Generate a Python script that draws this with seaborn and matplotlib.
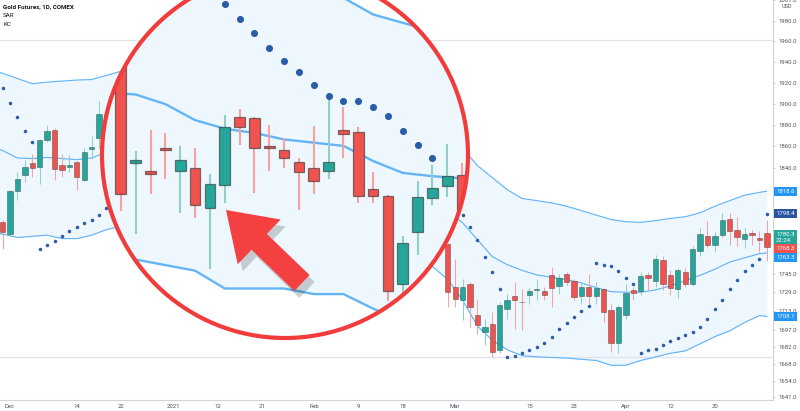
import numpy as np
import pandas as pd
import matplotlib
matplotlib.use("Agg")
import matplotlib.pyplot as plt
import seaborn as sns
from matplotlib.patches import Circle, FancyArrow
from matplotlib.transforms import Affine2D
from matplotlib.ticker import FixedLocator, NullLocator, FixedFormatter

# trading days (COMEX holidays removed)
holidays = ['2020-12-25', '2021-01-01', '2021-01-18', '2021-02-15', '2021-04-02']
dates = pd.bdate_range('2020-11-30', '2021-04-29').drop(pd.to_datetime(holidays))

opens = [1790.9, 1780.4, 1818.4, 1833.3, 1844.5, 1841, 1866, 1875, 1842.5, 1840.5,
         1845, 1829, 1857.5, 1868, 1889,
         1887, 1878, 1868, 1873, 1885, 1880, 1882, 1893, 1900, 1946, 1955, 1917,
         1913, 1848, 1844.3, 1855, 1844.5, 1846, 1827.5, 1838, 1869.3, 1868.8,
         1855.8, 1854.3, 1848.5, 1845.8, 1844.5, 1863.5, 1862.6, 1836, 1833, 1793.2,
         1816.3, 1832, 1837.6, 1842.5,
         1827, 1823, 1799, 1773, 1775, 1779, 1808, 1806, 1797,
         1771.4, 1733.4, 1722.5, 1736.4, 1709.1, 1694.9, 1702, 1679.4, 1714.8, 1725.4,
         1721, 1726.2, 1731.2, 1729.7, 1743.6, 1734, 1745.1, 1738.6, 1725.4, 1733.4,
         1725.4, 1732, 1713.5, 1685.6, 1709.1, 1730.8, 1730, 1744, 1738.6, 1756.9,
         1744.2, 1732, 1746.5, 1736.4, 1764.9, 1778.2, 1770.6, 1779.1, 1793.7, 1783.7,
         1775.8, 1781, 1776.6, 1781]
highs = [1792.7, 1819.5, 1836, 1847, 1852.3, 1866.5, 1879.7, 1876.5, 1853, 1851.7,
         1846, 1858, 1869, 1902, 1895,
         1906, 1880, 1880, 1887, 1893, 1887, 1896, 1902, 1947, 1957, 1962, 1924,
         1916, 1853.7, 1863.3, 1862.2, 1856.1, 1855, 1843.2, 1870.3, 1873, 1869.3,
         1865.7, 1859.6, 1850.3, 1865.2, 1880.6, 1874, 1864.8, 1843.8, 1833.5, 1814.5,
         1840, 1847, 1857, 1848,
         1829, 1825, 1801, 1786, 1790, 1815, 1816, 1807, 1801,
         1772, 1758.2, 1740.7, 1738, 1722.1, 1706.2, 1711.9, 1720.5, 1727.7, 1737.8,
         1732, 1733, 1740.7, 1733.4, 1750.8, 1745.1, 1746.5, 1740.7, 1737.8, 1745.1,
         1737.8, 1733, 1719.1, 1718, 1736.4, 1733.4, 1746.5, 1746.5, 1761.4, 1760.5,
         1748.3, 1749.8, 1750.3, 1769.8, 1785, 1791.7, 1782, 1798.7, 1799.3, 1795,
         1785, 1783.6, 1782.5, 1792.5]
lows = [1767, 1779, 1810.5, 1827, 1831.6, 1825, 1864, 1828.7, 1831.6, 1836,
        1819.5, 1828, 1848, 1858, 1877,
        1855, 1859, 1862, 1871, 1870, 1872, 1878, 1885, 1896, 1932, 1900, 1907,
        1826, 1815.7, 1834, 1840.5, 1825, 1822.7, 1799.7, 1829.6, 1856.4, 1834.4,
        1844.3, 1845.7, 1826.5, 1834, 1840.5, 1850.3, 1829.6, 1829.6, 1785.4, 1788,
        1806, 1829, 1832.4, 1820,
        1808, 1789, 1769, 1762, 1770, 1776, 1793, 1783, 1768,
        1716.2, 1716.2, 1704.8, 1699.1, 1693.5, 1683.6, 1673.8, 1677, 1706.2, 1697.7,
        1696.3, 1719, 1722, 1722.1, 1716.2, 1727.7, 1735, 1722.1, 1719, 1719,
        1719, 1703.3, 1678, 1677.2, 1706.2, 1722.1, 1727, 1730.8, 1733.4, 1731,
        1726.4, 1723.6, 1733.4, 1734, 1760.5, 1768, 1764, 1777, 1770.2, 1769,
        1767.9, 1770, 1764, 1756]
closes = [1781.6, 1818.4, 1830, 1841, 1840, 1865.7, 1874.5, 1838.5, 1838, 1843,
          1831.6, 1855, 1858.8, 1890.5, 1886,
          1878, 1870, 1874, 1883, 1880, 1882, 1893, 1895, 1946, 1954, 1918, 1913,
          1834, 1849.4, 1843, 1854, 1849.4, 1829, 1838.5, 1864.8, 1864.8, 1854.8,
          1855, 1850.2, 1843.8, 1840, 1848.7, 1861.5, 1832.8, 1833, 1790, 1811.6,
          1832.3, 1836.7, 1842.2, 1823,
          1823, 1799, 1773, 1775, 1777, 1808, 1806, 1797, 1775,
          1729.1, 1723.4, 1733.4, 1716.2, 1700.5, 1699.1, 1678, 1717.6, 1722.5, 1722.5,
          1720.2, 1729.7, 1731.5, 1726.2, 1732.9, 1741.6, 1737.8, 1724.8, 1733.4, 1725.4,
          1732.5, 1711.9, 1685.6, 1716.2, 1728.2, 1728.2, 1742.7, 1741.6, 1758.2, 1736.4,
          1732.6, 1748.3, 1736.4, 1766.4, 1779.7, 1770.6, 1778, 1792.8, 1782.5, 1777.8,
          1779.7, 1779, 1774.6, 1768.3]

# parabolic SAR, one value per bar
sar = [1914.5, 1900.2, 1887, 1873.7, 1863.4, 1767.2, 1770, 1773.5, 1777.9, 1782.4,
       1786, 1789.6, 1793, 1796.7, 1803.8, 1810, 1816, 1822, 1828, 1834,
       1840, 1845, 1850, 1855, 1862, 1872, 1882, 1962, 1957, 1951,
       1945, 1939, 1934, 1928, 1923, 1916, 1909, 1902, 1896, 1890.5,
       1884.7, 1879.5, 1877, 1877, 1874, 1870, 1863, 1856.5, 1850.5, 1784,
       1786, 1788, 1846, 1843, 1838, 1833, 1828, 1823, 1818, 1812,
       1806, 1801.5, 1797.3, 1786.2, 1774.4, 1759.6, 1746.4, 1732, 1673.9, 1675,
       1677, 1679.4, 1682, 1685.6, 1690.7, 1697.7, 1702.8, 1707.6, 1712.7, 1717,
       1754.7, 1753, 1751.5, 1747.3, 1741.6, 1736.5, 1677, 1679.4, 1680.8, 1683.8,
       1687, 1689.7, 1692, 1694.9, 1699.6, 1706, 1714.7, 1722.6, 1731.4, 1739.8,
       1747.3, 1752.4, 1758.3, 1798.4]

# Keltner channel, read at every second bar
kc_bar = [-1, 0, 2, 4, 6, 8, 10, 12, 14, 16, 18, 20, 22, 24, 26, 28, 30, 32, 34, 36,
          38, 40, 42, 44, 46, 48, 50, 52, 54, 56, 58, 60, 62, 64, 66, 68, 70, 72, 74, 76,
          78, 80, 82, 84, 86, 88, 90, 92, 94, 96, 98, 100, 102, 103]
kc_upper = [1931, 1929, 1924, 1919, 1920.5, 1921.5, 1922.5, 1923, 1927, 1931, 1934, 1936,
            1938, 1945, 1953, 1952, 1947, 1940, 1936, 1933, 1930, 1928, 1926, 1918, 1914,
            1910, 1908, 1902, 1893, 1882, 1872, 1864, 1858, 1842, 1831, 1820, 1812, 1810,
            1808, 1805, 1801, 1797, 1793, 1791, 1790.5, 1792, 1794, 1795.5, 1799, 1805,
            1810, 1815, 1817.5, 1818.6]
kc_mid = [1858, 1856, 1849, 1848.5, 1849.5, 1848.5, 1847.5, 1849, 1854.5, 1859, 1863,
          1866, 1869, 1875, 1881, 1880, 1875.5, 1868, 1864, 1862, 1859, 1857.5, 1856,
          1849, 1843.5, 1842, 1841, 1835, 1825, 1816, 1809, 1801, 1790, 1775, 1760, 1753,
          1748, 1744, 1742, 1740, 1737, 1733, 1729.5, 1729, 1729, 1731, 1734.5, 1739,
          1743.7, 1749, 1755.3, 1759, 1762.6, 1763.3]
kc_lower = [1781, 1780, 1777, 1778, 1779, 1776, 1776, 1779, 1784, 1787, 1792, 1796, 1800,
            1805, 1807, 1804, 1801.5, 1799, 1791, 1791, 1791, 1788.5, 1788.5, 1782, 1776,
            1773, 1772, 1768, 1761, 1756, 1751, 1740, 1722, 1700, 1688, 1680, 1675, 1674,
            1673.5, 1673, 1672, 1671, 1667, 1667, 1671, 1674, 1677, 1679, 1685, 1691, 1696,
            1703, 1709, 1708.1]

tick_dates = ['2020-12-01', '2020-12-14', '2020-12-22', '2021-01-04', '2021-01-12',
              '2021-01-21', '2021-02-01', '2021-02-09', '2021-02-18', '2021-03-01',
              '2021-03-15', '2021-03-23', '2021-04-01', '2021-04-12', '2021-04-20']
tick_text = ['Dec', '14', '22', '2021', '12', '21', 'Feb', '9', '18', 'Mar',
             '15', '23', 'Apr', '12', '20']
price_ticks = [1641, 1654, 1668, 1682, 1697, 1713, 1729, 1745,
               1840, 1860, 1880, 1900, 1920, 1940, 1960, 1980, 2001]
ref_lines = [1961, 1674]
last_labels = [(1818.6, '1818.6', '#2196f3', 0),
               (1798.4, '1798.4', '#2a56a3', 0),
               (1780.3, '1780.3\n22:24', '#26a69a', -2.6),
               (1768.3, '1768.3', '#ef5350', -1.2),
               (1763.3, '1763.3', '#2196f3', -3.0),
               (1708.1, '1708.1', '#2196f3', 0)]

df = pd.DataFrame({'open': opens, 'high': highs, 'low': lows, 'close': closes, 'sar': sar})
df['bar'] = np.arange(len(df))
kc = pd.DataFrame({'bar': kc_bar, 'upper': kc_upper, 'mid': kc_mid, 'lower': kc_lower})

UP, DOWN = '#26a69a', '#ef5350'
UP_WICK, DOWN_WICK = '#8fd1c8', '#f5a3a1'
EDGE = (0.18, 0.18, 0.18, 0.6)
TXT = '#50535e'

sns.set_style('white')
plt.rcParams['font.family'] = ['Roboto', 'DejaVu Sans']


def draw_chart(ax, scale=1.0):
    up = (df['close'] >= df['open']).values
    ax.set_yscale('log')
    ax.fill_between(kc['bar'], kc['lower'], kc['upper'], color='#2196f3', alpha=0.07,
                    lw=0, zorder=0)
    for col in ['upper', 'mid', 'lower']:
        sns.lineplot(data=kc, x='bar', y=col, ax=ax, color='#64b5f6', lw=0.85 * scale,
                     estimator=None, sort=False, zorder=1)
    ax.vlines(df['bar'], df['low'], df['high'], colors=np.where(up, UP_WICK, DOWN_WICK),
              lw=0.75 * scale, zorder=2)
    ax.bar(df['bar'], df['close'] - df['open'], bottom=df['open'], width=0.72,
           color=np.where(up, UP, DOWN), edgecolor=EDGE, linewidth=0.45 * scale, zorder=3)
    sns.scatterplot(data=df, x='bar', y='sar', ax=ax, color='#2a5caa', s=6.5 * scale ** 2,
                    linewidth=0, zorder=4)
    ax.set_xlabel('')
    ax.set_ylabel('')


fig = plt.figure(figsize=(8, 4.11), dpi=100)
ax = fig.add_axes([0, 11 / 411, 773 / 800, 400 / 411])
draw_chart(ax)
for p in ref_lines:
    ax.axhline(p, color='#e0e3eb', lw=0.9, zorder=0.5)
ax.set_xlim(-0.35, 103.83)
ax.set_ylim(1638.3, 2001)

for s in ['top', 'left']:
    ax.spines[s].set_visible(False)
for s in ['right', 'bottom']:
    ax.spines[s].set_color('#d1d4dc')
    ax.spines[s].set_linewidth(0.8)

ax.yaxis.tick_right()
ax.yaxis.set_minor_locator(NullLocator())
ax.yaxis.set_major_locator(FixedLocator(price_ticks))
ax.yaxis.set_major_formatter(FixedFormatter([f'{p:.1f}' for p in price_ticks]))
ax.tick_params(axis='y', length=1.5, width=0.5, color='#b2b5be', pad=2.5,
               labelsize=4.3, labelcolor=TXT)
pos = dates.get_indexer(pd.to_datetime(tick_dates))
ax.xaxis.set_major_locator(FixedLocator(pos))
ax.xaxis.set_major_formatter(FixedFormatter(tick_text))
ax.tick_params(axis='x', length=0, pad=3, labelsize=4.3, labelcolor=TXT)

# last value labels on the price scale
for val, txt, col, off in last_labels:
    ax.annotate(txt, xy=(1, val), xycoords=ax.get_yaxis_transform(), xytext=(2.2, off),
                textcoords='offset points', ha='left', va='center', fontsize=4.3,
                color='white', linespacing=1.1, annotation_clip=False, zorder=6,
                bbox=dict(boxstyle='square,pad=0.35', fc=col, ec='none'))
ax.annotate('USD', xy=(1, 1), xycoords='axes fraction', xytext=(10, -5),
            textcoords='offset points', ha='center', va='center', fontsize=4.0,
            color=TXT, annotation_clip=False)

# legend text, top left
fig.text(3 / 800, 1 - 7 / 411, 'Gold Futures, 1D, COMEX', fontsize=4.5, fontweight='bold',
         color='#131722', va='center')
fig.text(3 / 800, 1 - 15.5 / 411, 'SAR', fontsize=4.5, color='#131722', va='center')
fig.text(3 / 800, 1 - 24 / 411, 'KC', fontsize=4.5, color='#131722', va='center')

# magnifier: 2x view about the circle centre
cx, cy, r = 285, 155, 183
ax_in = fig.add_axes([(cx - r) / 800, (411 - cy - r) / 411, 2 * r / 800, 2 * r / 411])
ax_in.set_axis_off()
bg = Circle((0.5, 0.5), 0.5, transform=ax_in.transAxes, fc='white', ec='none', zorder=-1)
ax_in.add_patch(bg)
draw_chart(ax_in, scale=2.0)
cbar = 1 + (cx - 10) / 7.42
half = r / (2 * 7.42)
ax_in.set_xlim(cbar - half, cbar + half)
cprice = 2001 * np.exp(-cy / 2000)
ax_in.set_ylim(cprice * np.exp(-r / 4000), cprice * np.exp(r / 4000))
clip = Circle((0.5, 0.5), 0.5, transform=ax_in.transAxes)
for art in ax_in.collections + ax_in.patches + ax_in.lines:
    art.set_clip_path(clip)
ring = Circle((0.5, 0.5), 0.5, transform=ax_in.transAxes, fill=False, ec='#f23b3b',
              lw=3.0, clip_on=False, zorder=10)
ax_in.add_patch(ring)

# arrow in pixel coordinates
px = Affine2D().scale(1 / 800, -1 / 411).translate(0, 1) + fig.transFigure
shadow = FancyArrow(307, 290, -76, -73, width=22, head_width=62, head_length=46,
                    length_includes_head=True, transform=px, color='black', alpha=0.18, lw=0)
arrow = FancyArrow(302, 283, -76, -73, width=22, head_width=62, head_length=46,
                   length_includes_head=True, transform=px, color='#f44040', lw=0)
fig.add_artist(shadow)
fig.add_artist(arrow)

fig.savefig('out.png', dpi=100)
